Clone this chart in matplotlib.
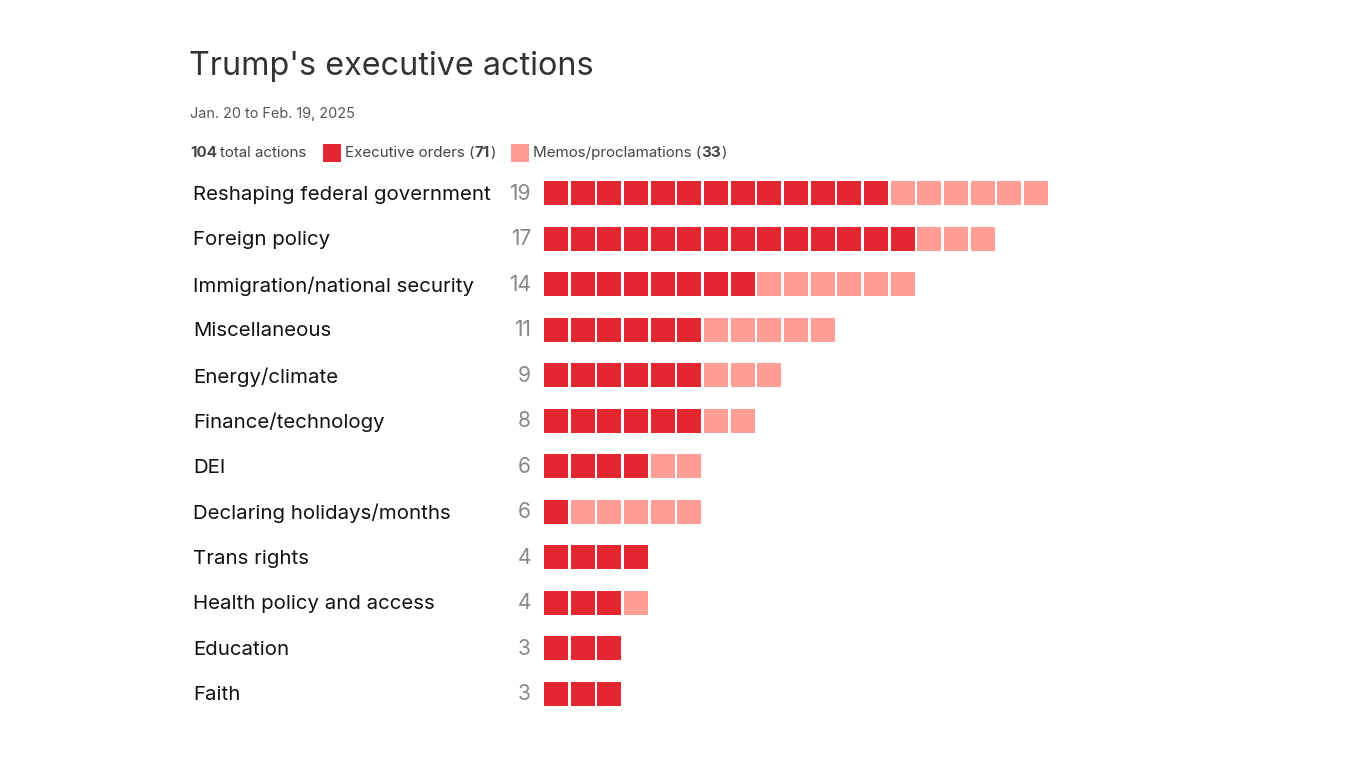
import matplotlib
matplotlib.use("Agg")
import matplotlib.pyplot as plt
import matplotlib.patches as mpatches
import matplotlib.transforms as mtransforms

# Data
categories = ["Reshaping federal government", "Foreign policy", "Immigration/national security",
              "Miscellaneous", "Energy/climate", "Finance/technology", "DEI",
              "Declaring holidays/months", "Trans rights", "Health policy and access",
              "Education", "Faith"]
exec_orders = [13, 14, 8, 6, 6, 6, 4, 1, 4, 3, 3, 3]
memos = [6, 3, 6, 5, 3, 2, 2, 5, 0, 1, 0, 0]

RED = "#e3262f"
PINK = "#ff9e96"
FONT = "Inter"

W, H = 1366, 768
fig = plt.figure(figsize=(W / 100, H / 100), dpi=100)
fig.patch.set_facecolor("white")

# axes for the waffle rows: one unit = one square pitch (~26.7 px), one row = ~45.5 px
pitch = 26.67
row_h = 45.5
x0 = 544
ncols = 30
top = 193 - row_h / 2
nrows = len(categories)
ax = fig.add_axes([x0 / W, 1 - (top + row_h * nrows) / H, pitch * ncols / W, row_h * nrows / H])
ax.set_xlim(0, ncols)
ax.set_ylim(nrows - 0.5, -0.5)
ax.axis("off")

sq_w = 24 / pitch
sq_h = 24 / row_h
for i, (cat, e, m) in enumerate(zip(categories, exec_orders, memos)):
    for j in range(e + m):
        c = RED if j < e else PINK
        ax.add_patch(mpatches.Rectangle((j, i - sq_h / 2), sq_w, sq_h, facecolor=c,
                                        edgecolor="none"))

trans = mtransforms.blended_transform_factory(fig.transFigure, ax.transData)
for i, (cat, e, m) in enumerate(zip(categories, exec_orders, memos)):
    ax.text(193 / W, i + 0.04, cat, transform=trans, ha="left", va="center",
            fontsize=14.7, color="#111111", family=FONT)
    ax.text(531 / W, i + 0.02, str(e + m), transform=trans, ha="right", va="center",
            fontsize=15, color="#888888", family=FONT)

# title and subtitle
fig.text(189 / W, 1 - 67 / H, "Trump's executive actions", fontsize=23.3, color="#333333",
         family=FONT, va="center", ha="left")
fig.text(190 / W, 1 - 114 / H, "Jan. 20 to Feb. 19, 2025", fontsize=10.4, color="#555555",
         family=FONT, va="center", ha="left")

# legend line built piece by piece
renderer = fig.canvas.get_renderer()
ly = 1 - 153 / H
xpos = 190


def put(txt, bold=False, gap=0):
    global xpos
    t = fig.text(xpos / W, ly, txt, fontsize=10.9, color="#444444", family=FONT,
                 fontweight="bold" if bold else "normal", va="center", ha="left")
    bb = t.get_window_extent(renderer=renderer)
    xpos = bb.x1 + gap


def swatch(color):
    global xpos
    fig.patches.append(mpatches.Rectangle((xpos / W, 1 - 162 / H), 18 / W, 18 / H,
                                          facecolor=color, edgecolor="none",
                                          transform=fig.transFigure, figure=fig))
    xpos += 22


put(str(sum(exec_orders) + sum(memos)), bold=True, gap=3)
put("total actions", gap=17)
swatch(RED)
put("Executive orders (")
put(str(sum(exec_orders)), bold=True)
put(")", gap=16)
swatch(PINK)
put("Memos/proclamations (")
put(str(sum(memos)), bold=True)
put(")")

fig.savefig("out.png", dpi=100, facecolor="white")
